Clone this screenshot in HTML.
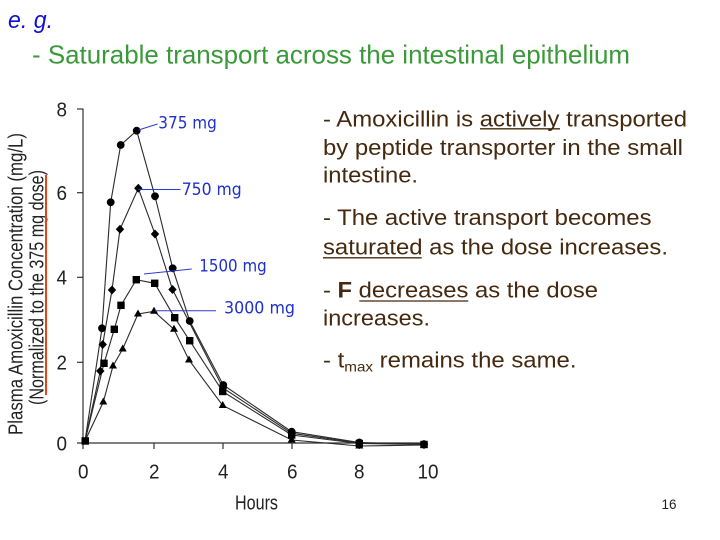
<!DOCTYPE html>
<html><head><meta charset="utf-8"><style>
html,body{margin:0;padding:0;background:#fff;}
svg{display:block;}
</style></head><body>
<svg width="720" height="540" viewBox="0 0 720 540" xmlns="http://www.w3.org/2000/svg">
<rect width="720" height="540" fill="#fff"/>
<!-- titles -->
<text x="8" y="28" font-family="Liberation Sans, sans-serif" font-style="italic" font-size="24" fill="#1010d0" textLength="45" lengthAdjust="spacingAndGlyphs">e. g.</text>
<text x="32" y="63.5" font-family="Liberation Sans, sans-serif" font-size="26" fill="#3a9a3a" textLength="598" lengthAdjust="spacingAndGlyphs">- Saturable transport across the intestinal epithelium</text>

<!-- right text -->
<g font-family="Liberation Sans, sans-serif" font-size="22" fill="#45290f">
<text x="323" y="126.7" textLength="364" lengthAdjust="spacingAndGlyphs">- Amoxicillin is actively transported</text>
<text x="323" y="155" textLength="360" lengthAdjust="spacingAndGlyphs">by peptide transporter in the small</text>
<text x="323" y="182.3" textLength="95" lengthAdjust="spacingAndGlyphs">intestine.</text>
<text x="323" y="225" textLength="328.5" lengthAdjust="spacingAndGlyphs">- The active transport becomes</text>
<text x="323" y="254.3" textLength="345" lengthAdjust="spacingAndGlyphs">saturated as the dose increases.</text>
<text x="323" y="297.7" textLength="275" lengthAdjust="spacingAndGlyphs">- <tspan font-weight="bold">F</tspan> decreases as the dose</text>
<text x="323" y="325.7" textLength="107" lengthAdjust="spacingAndGlyphs">increases.</text>
<text x="323" y="367.7" textLength="253.5" lengthAdjust="spacingAndGlyphs">- t<tspan font-size="14" dy="4">max</tspan><tspan dy="-4"> remains the same.</tspan></text>
</g>
<g stroke="#45290f" stroke-width="1.3">
<line x1="480" y1="128.8" x2="560" y2="128.8"/>
<line x1="323" y1="257.8" x2="421.7" y2="257.8"/>
<line x1="359.3" y1="301" x2="468.3" y2="301"/>
</g>

<!-- y-axis title -->
<g font-family="Liberation Sans, sans-serif" font-size="20.5" fill="#222">
<text transform="translate(22.5,435) rotate(-90)" textLength="302" lengthAdjust="spacingAndGlyphs">Plasma Amoxicillin Concentration (mg/L)</text>
<text transform="translate(43.3,405) rotate(-90)" textLength="235" lengthAdjust="spacingAndGlyphs">(Normalized to the 375 mg dose)</text>
</g>
<line x1="46" y1="175" x2="46" y2="395" stroke="#e4431e" stroke-width="2"/>

<!-- axes -->
<g stroke="#333" stroke-width="1.2" fill="none">
<line x1="83" y1="108.5" x2="83" y2="443"/>
<line x1="77" y1="443" x2="426.5" y2="443"/>
<line x1="77" y1="109" x2="83" y2="109"/>
<line x1="77" y1="192.7" x2="83" y2="192.7"/>
<line x1="77" y1="277.3" x2="83" y2="277.3"/>
<line x1="77" y1="362.3" x2="83" y2="362.3"/>
<line x1="83" y1="443" x2="83" y2="449"/>
<line x1="154" y1="443" x2="154" y2="449"/>
<line x1="223" y1="443" x2="223" y2="449"/>
<line x1="292" y1="443" x2="292" y2="449"/>
<line x1="359.3" y1="443" x2="359.3" y2="449"/>
<line x1="424" y1="443" x2="424" y2="449"/>
</g>
<g font-family="Liberation Sans, sans-serif" font-size="20" fill="#222">
<text x="56.5" y="116.5" textLength="10.5" lengthAdjust="spacingAndGlyphs">8</text>
<text x="56.5" y="200" textLength="10.5" lengthAdjust="spacingAndGlyphs">6</text>
<text x="56.5" y="284.5" textLength="10.5" lengthAdjust="spacingAndGlyphs">4</text>
<text x="56.5" y="369.5" textLength="10.5" lengthAdjust="spacingAndGlyphs">2</text>
<text x="56.5" y="450.5" textLength="10.5" lengthAdjust="spacingAndGlyphs">0</text>
<text x="78" y="478.5" textLength="10.5" lengthAdjust="spacingAndGlyphs">0</text>
<text x="149" y="478.5" textLength="10.5" lengthAdjust="spacingAndGlyphs">2</text>
<text x="218" y="478.5" textLength="10.5" lengthAdjust="spacingAndGlyphs">4</text>
<text x="287" y="478.5" textLength="10.5" lengthAdjust="spacingAndGlyphs">6</text>
<text x="354" y="478.5" textLength="10.5" lengthAdjust="spacingAndGlyphs">8</text>
<text x="417.5" y="478.5" textLength="21" lengthAdjust="spacingAndGlyphs">10</text>
<text x="235" y="509.3" textLength="43" lengthAdjust="spacingAndGlyphs">Hours</text>
</g>

<!-- series lines -->
<g stroke="#2a2a2a" stroke-width="1.1" fill="none">
<polyline points="85,441 102,328.3 110.7,202.3 120.7,145 136.7,130.7 155,196.3 172.7,268.3 189.7,321 223.3,385 291.7,431.7 359.3,442.5 424,444.3"/>
<polyline points="85,441 100.3,371 102.7,344.5 112,290 120,229.3 138.3,188.3 155,234 172.5,289.5 223,388 291.7,433.3 359.3,443 424,444.3"/>
<polyline points="85,441 104,363.3 114.3,329.3 121,305.3 136.3,279.7 154.7,283.3 174.7,317.7 189.7,340.7 222.7,391.5 291.7,435 359.3,443.5 424,444.5"/>
<polyline points="85,441 103.3,402 113,366 122.7,349 138,314 154,311.3 174,329.3 189,360 222.7,405.5 291.7,440 359.3,446 424,445"/>
</g>

<!-- markers -->
<g fill="#000">
<!-- triangles -->
<polygon points="103.3,397.5 99.3,404.5 107.3,404.5"/>
<polygon points="113,361.5 109,368.5 117,368.5"/>
<polygon points="122.7,344.5 118.7,351.5 126.7,351.5"/>
<polygon points="138,309.5 134,316.5 142,316.5"/>
<polygon points="154,306.8 150,313.8 158,313.8"/>
<polygon points="174,324.8 170,331.8 178,331.8"/>
<polygon points="189,355.5 185,362.5 193,362.5"/>
<polygon points="222.7,401 218.7,408 226.7,408"/>
<polygon points="291.7,435.5 287.7,442.5 295.7,442.5"/>
<polygon points="359.3,441.5 355.3,448.5 363.3,448.5"/>
<polygon points="424,440.5 420,447.5 428,447.5"/>
<!-- squares -->
<rect x="81.5" y="437.2" width="7.5" height="7.5"/>
<rect x="100.3" y="359.6" width="7.4" height="7.4"/>
<rect x="110.6" y="325.6" width="7.4" height="7.4"/>
<rect x="117.3" y="301.6" width="7.4" height="7.4"/>
<rect x="132.6" y="276" width="7.4" height="7.4"/>
<rect x="151" y="279.6" width="7.4" height="7.4"/>
<rect x="171" y="314" width="7.4" height="7.4"/>
<rect x="186" y="337" width="7.4" height="7.4"/>
<rect x="219" y="387.8" width="7.4" height="7.4"/>
<rect x="288" y="431.3" width="7.4" height="7.4"/>
<rect x="355.6" y="439.8" width="7.4" height="7.4"/>
<rect x="420.3" y="440.8" width="7.4" height="7.4"/>
<!-- diamonds -->
<polygon points="100.3,366.5 104.5,371 100.3,375.5 96.1,371"/>
<polygon points="102.7,340 106.9,344.5 102.7,349 98.5,344.5"/>
<polygon points="112,285.5 116.2,290 112,294.5 107.8,290"/>
<polygon points="120,224.8 124.2,229.3 120,233.8 115.8,229.3"/>
<polygon points="138.3,183.8 142.5,188.3 138.3,192.8 134.1,188.3"/>
<polygon points="155,229.5 159.2,234 155,238.5 150.8,234"/>
<polygon points="172.5,285 176.7,289.5 172.5,294 168.3,289.5"/>
<polygon points="223,383.5 227.2,388 223,392.5 218.8,388"/>
<polygon points="291.7,428.8 295.9,433.3 291.7,437.8 287.5,433.3"/>
<polygon points="359.3,438.5 363.5,443 359.3,447.5 355.1,443"/>
<polygon points="424,439.8 428.2,444.3 424,448.8 419.8,444.3"/>
<!-- circles -->
<circle cx="102" cy="328.3" r="3.9"/>
<circle cx="110.7" cy="202.3" r="3.9"/>
<circle cx="120.7" cy="145" r="3.9"/>
<circle cx="136.7" cy="130.7" r="3.9"/>
<circle cx="155" cy="196.3" r="3.9"/>
<circle cx="172.7" cy="268.3" r="3.9"/>
<circle cx="189.7" cy="321" r="3.9"/>
<circle cx="223.3" cy="385" r="3.9"/>
<circle cx="291.7" cy="431.7" r="3.9"/>
<circle cx="359.3" cy="442.5" r="3.9"/>
<circle cx="424" cy="444.3" r="3.9"/>
</g>

<!-- series labels -->
<g stroke="#2a3ad0" stroke-width="1">
<line x1="138.5" y1="130" x2="157.5" y2="124"/>
<line x1="138.5" y1="189.5" x2="180.5" y2="189.5"/>
<line x1="144" y1="274" x2="191.7" y2="269"/>
<line x1="155" y1="310.8" x2="216" y2="310.8"/>
</g>
<g font-family="DejaVu Sans, sans-serif" font-size="16.5" fill="#1f30cc">
<text x="158.3" y="128.3" textLength="58.5" lengthAdjust="spacingAndGlyphs">375 mg</text>
<text x="181.7" y="195" textLength="60" lengthAdjust="spacingAndGlyphs">750 mg</text>
<text x="199.3" y="271.7" textLength="67.4" lengthAdjust="spacingAndGlyphs">1500 mg</text>
<text x="224" y="313.3" textLength="71" lengthAdjust="spacingAndGlyphs">3000 mg</text>
</g>

<text x="661.5" y="509" font-family="Liberation Sans, sans-serif" font-size="13.5" fill="#222" textLength="15" lengthAdjust="spacingAndGlyphs">16</text>
</svg>
</body></html>
